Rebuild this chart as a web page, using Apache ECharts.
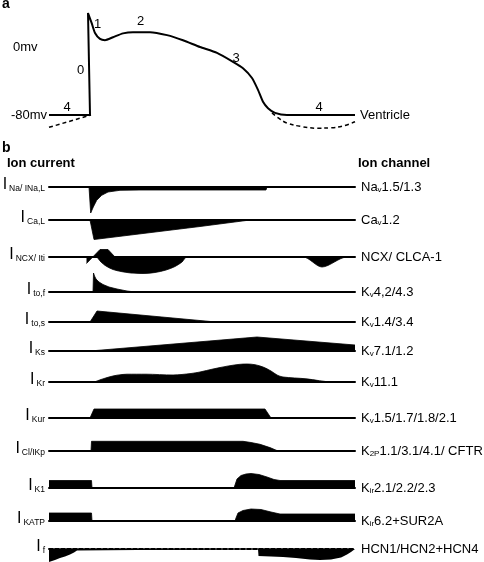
<!DOCTYPE html>
<html>
<head>
<meta charset="utf-8">
<script src="https://cdn.jsdelivr.net/npm/echarts@6.0.0/dist/echarts.min.js"></script>
<style>
  html, body { margin: 0; padding: 0; background: #fff; }
  #chart { width: 484px; height: 562px; }
</style>
</head>
<body>
<div id="chart"></div>
<script>
// time in ms (0 = upstroke), membrane potential in mV
var apTrace = [[-42, -80], [-1, -80], [-3, 40], [0.7, 28], [4, 16.5], [9, 9.5], [14, 8], [22, 11.5],
  [32, 16], [42, 17.5], [59, 17.5], [76, 14], [92, 8], [109, 0], [126, -7], [142, -17.5], [152, -25],
  [161, -36.5], [167, -50.5], [172, -64.5], [177, -72], [184, -77.5], [196, -80], [264, -80]];
var apDashLeft = [[-42, -94.5], [0, -80]];
var apDashRight = [[181, -77.5], [188, -84], [196, -89.5], [210, -93.5], [226, -95.5], [240, -95], [252, -93], [264, -88]];

// ion currents, arbitrary units (up = outward, down = inward)
var iNa = [[-42, 0], [-2, 0], [-0.3, -26], [2.3, -20], [5.7, -13.3], [10.7, -8.3], [17, -5], [29, -3.3], [49, -3], [175, -3], [176, 0], [264, 0]];
var iCaL = [[-42, 0], [-1, 0], [3, -19.5], [109, -6.5], [159, 0], [264, 0]];
var iNcxHump = [[-4.5, -6.5], [9, 7.5], [17, 7.5], [24, 0]];
var iNcxLobe = [[6, 0], [10, -5], [15, -9], [22, -12.5], [30, -14.5], [40, -16], [52, -16.5], [64, -15.5], [75, -13],
  [84, -9.5], [91, -5], [96, 0], [212, 0], [231, -10], [256, 0], [264, 0]];
var iToF = [[-42, 0], [2, 0], [2.5, 19], [3.5, 16], [5, 13], [8, 10], [12, 7.5], [18, 5], [26, 3], [36, 1], [44, 0], [264, 0]];
var iToS = [[-42, 0], [-1, 0], [6, 11], [125, 0], [264, 0]];
var iKs = [[-42, 0], [-1, 0], [166, 14], [264, 6]];
var iKr = [[-42, 0], [2, 0], [10, 2.5], [18, 5], [26, 6.8], [36, 7.8], [55, 7.8], [82, 7], [100, 8.5], [109, 10], [122, 13],
  [136, 15.8], [148, 17.6], [156, 18], [164, 17.3], [172, 15], [180, 11], [186, 7], [192, 5], [215, 3.2], [242, 0], [264, 0]];
var iKur = [[-42, 0], [-1, 0], [3, 9], [174, 9], [180, 0], [264, 0]];
var iClKp = [[-42, 0], [0, 0], [0.5, 9.7], [152, 9.7], [160, 8.5], [169, 6.7], [179, 3.4], [187, 0], [264, 0]];
var iK1 = [[-42, 7.5], [0.5, 7.5], [1, 0], [143, 0], [144, 3], [146, 9], [150, 12.5], [155, 14], [160, 14.5], [168, 13.5],
  [176, 11], [183, 8.5], [189, 7.5], [264, 7.5]];
var iKatp = [[-42, 8], [0.5, 8], [1, 0], [144, 0], [145, 3], [147, 8], [152, 10.5], [160, 12], [170, 11.5], [180, 9],
  [189, 7], [264, 7]];
var iF = [[-42, -13], [-36, -11], [-31, -9], [-26, -7.5], [-21, -5.5], [-17, -3.5], [-14, -1.5], [-12, 0], [167, 0],
  [167.5, -7], [180, -7.5], [192, -8], [205, -9], [219, -10.5], [229, -11], [240, -10.5], [250, -8.5], [256, -5.5],
  [260, -3], [264, 0]];

var currentSubs = ['Na/ INa,L', 'Ca,L', 'NCX/ Iti', 'to,f', 'to,s', 'Ks', 'Kr', 'Kur', 'Cl/IKp', 'K1', 'KATP', 'f'];
var channelNames = [['Na', 'v', '1.5/1.3'], ['Ca', 'v', '1.2'], ['NCX/ CLCA-1', '', ''], ['K', 'v', '4,2/4.3'],
  ['K', 'v', '1.4/3.4'], ['K', 'v', '7.1/1.2'], ['K', 'v', '11.1'], ['K', 'v', '1.5/1.7/1.8/2.1'],
  ['K', '2P', '1.1/3.1/4.1/ CFTR'], ['K', 'ir', '2.1/2.2/2.3'], ['K', 'ir', '6.2+SUR2A'], ['HCN1/HCN2+HCN4', '', '']];
var phaseLabels = ['0', '1', '2', '3', '4', '4'];

// layout
var rowShapes = [[iNa], [iCaL], [iNcxHump, iNcxLobe], [iToF], [iToS], [iKs], [iKr], [iKur], [iClKp], [iK1], [iKatp], [iF]];
var smoothShapes = [iNcxLobe, iKr];
var rowBase = [187, 220, 257, 292, 322, 351, 382, 418, 451, 488, 521, 549];
var phasePos = [[80.5, 70], [97.5, 24.5], [140.5, 21], [236, 58], [67, 107], [319, 107]];
var plotLeft = 49, plotWidth = 306, tMin = -42, tMax = 264;
var FONT = '"Liberation Sans", Arial, Helvetica, sans-serif';

var chart = echarts.init(document.getElementById('chart'), null, { renderer: 'canvas' });

var grids = [{ left: plotLeft, width: plotWidth, top: 13, height: 119, outerBoundsMode: 'none' }];
var xAxes = [{ type: 'value', gridIndex: 0, min: tMin, max: tMax, show: false }];
var yAxes = [{ type: 'value', gridIndex: 0, min: -100, max: 40, show: false }];
var series = [
  { type: 'line', xAxisIndex: 0, yAxisIndex: 0, data: apTrace, symbol: 'none', smooth: 0.2,
    lineStyle: { color: '#000', width: 2 } },
  { type: 'line', xAxisIndex: 0, yAxisIndex: 0, data: apDashLeft, symbol: 'none',
    lineStyle: { color: '#000', width: 1.5, type: [4, 3] } },
  { type: 'line', xAxisIndex: 0, yAxisIndex: 0, data: apDashRight, symbol: 'none', smooth: 0.4,
    lineStyle: { color: '#000', width: 1.5, type: [4, 3] } }
];

rowBase.forEach(function (b, i) {
  var g = i + 1;
  grids.push({ left: plotLeft, width: plotWidth, top: b - 30, height: 60, outerBoundsMode: 'none' });
  xAxes.push({
    type: 'value', gridIndex: g, min: tMin, max: tMax,
    axisLine: { show: true, onZero: true, lineStyle: { color: '#000', width: 2, type: i === 11 ? [4, 2] : 'solid' } },
    axisTick: { show: false }, axisLabel: { show: false }, splitLine: { show: false }
  });
  yAxes.push({ type: 'value', gridIndex: g, min: -30, max: 30, show: false });
  rowShapes[i].forEach(function (d) {
    series.push({
      type: 'line', xAxisIndex: g, yAxisIndex: g, data: d, symbol: 'none',
      smooth: smoothShapes.indexOf(d) >= 0 ? 0.3 : false,
      lineStyle: { color: '#000', width: i === 11 ? 0 : 0.8 },
      areaStyle: { color: '#000', opacity: 1 }
    });
  });
});

function txt(x, y, text, font, align, vAlign, rich) {
  return {
    type: 'text', x: x, y: y, silent: true, z: 10,
    style: { text: text, font: font, fill: '#000', align: align, verticalAlign: vAlign,
      textAlign: align, textVerticalAlign: vAlign, rich: rich }
  };
}

var graphics = [
  txt(2, 4, 'a', 'bold 14px ' + FONT, 'left', 'middle'),
  txt(13, 47, '0mv', '13px ' + FONT, 'left', 'middle'),
  txt(47, 115, '-80mv', '13px ' + FONT, 'right', 'middle'),
  txt(360, 115, 'Ventricle', '13px ' + FONT, 'left', 'middle'),
  txt(2, 148, 'b', 'bold 14px ' + FONT, 'left', 'middle'),
  txt(7, 163, 'Ion current', 'bold 13px ' + FONT, 'left', 'middle'),
  txt(358, 163, 'Ion channel', 'bold 13px ' + FONT, 'left', 'middle')
];
phaseLabels.forEach(function (p, i) {
  graphics.push(txt(phasePos[i][0], phasePos[i][1], p, '13px ' + FONT, 'center', 'middle'));
});

var leftRich = {
  i: { fontSize: 16, fontFamily: FONT, lineHeight: 16, verticalAlign: 'bottom', padding: [0, 2, 0, 0] },
  s: { fontSize: 8.5, fontFamily: FONT, lineHeight: 6, verticalAlign: 'bottom' }
};
var rightRich = {
  m: { fontSize: 13, fontFamily: FONT, lineHeight: 14, verticalAlign: 'bottom' },
  s: { fontSize: 8, fontFamily: FONT, lineHeight: 6, verticalAlign: 'bottom' }
};
rowBase.forEach(function (b, i) {
  graphics.push(txt(45, b + 6, '{i|I}{s|' + currentSubs[i] + '}', '16px ' + FONT, 'right', 'bottom', leftRich));
  var c = channelNames[i];
  var t = '{m|' + c[0] + '}' + (c[1] ? '{s|' + c[1] + '}' : '') + (c[2] ? '{m|' + c[2] + '}' : '');
  graphics.push(txt(361, b, t, '13px ' + FONT, 'left', 'middle', rightRich));
});

chart.setOption({
  animation: false,
  backgroundColor: '#fff',
  grid: grids,
  xAxis: xAxes,
  yAxis: yAxes,
  series: series,
  graphic: graphics
});
</script>
</body>
</html>
